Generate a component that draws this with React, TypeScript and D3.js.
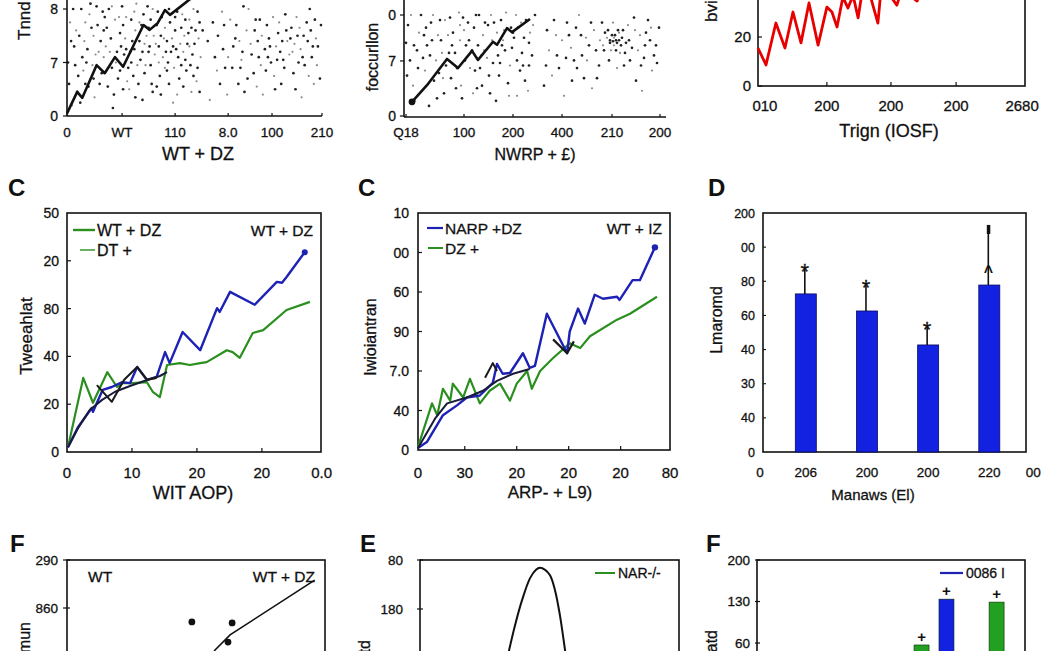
import React from "react";
import * as d3 from "d3";

type P = [number, number];
const FONT = "'Liberation Sans', Arial, Helvetica, sans-serif";

// ---------------- Panel A1 ----------------
const a1XTickVals = [0, 54, 106, 158, 201, 250];
const a1XTickLabels = ["0", "WT", "110", "8.0", "100", "210"];
const a1YTickVals = [0, 100, 200];
const a1YTickLabels = ["0", "7", "8"];
const a1Dots: P[] = [
  [5,20],[12,150],[18,60],[22,190],[8,95],[15,110],[27,35],[30,170],[34,80],[38,130],[41,200],[45,15],[48,100],[52,155],[55,50],[58,185],[62,120],[65,75],[68,210],[71,140],[74,30],[77,95],[80,165],[83,60],[86,115],[89,195],[92,40],[95,145],[98,85],[101,175],[104,25],[107,125],[110,70],[113,190],[116,105],[119,155],[122,45],[125,135],[128,90],[3,175],[10,45],[20,125],[25,95],[33,140],[40,55],[47,180],[53,130],[60,90],[67,160],[72,105],[79,205],[85,150],[91,75],[97,120],[103,145],[108,195],[114,55],[120,180],[126,160],[7,130],[16,85],[24,165],[29,205],[36,110],[43,145],[50,70],[57,145],[63,180],[70,60],[76,135],[82,95],[88,170],[94,110],[100,60],[106,160],[111,135],[117,85],[123,115],[129,145],[14,200],[19,100],[31,120],[37,185],[44,90],[51,185],[56,115],[64,140],[69,95],[75,190],[81,130],[87,135],[93,185],[99,100],[105,90],[112,165],[118,135],[124,200],[130,175],[2,60],[26,150],[39,165],[49,120],[61,50],[73,170],[84,45],[96,165],[109,110],[121,95],[127,65],[55,170],[66,125],[78,150],[90,130],[102,120],[115,150],
  [1,100],[6,200],[9,160],[11,75],[13,25],[17,140],[21,55],[23,210],[28,115],[32,60],[35,195],[42,120],[46,40],[54,205],[59,65],[63,100],[67,35],[71,175],[76,80],[80,120],[84,200],[88,55],[92,150],[96,90],[100,200],[104,130],[108,40],[112,95],[116,180],[120,130],[124,75],[128,195],[131,110],[133,160],[4,140],[18,175],[26,70],[36,160],[44,205],[52,85],[58,125],[66,195],[74,120],[82,180],[90,100],[98,140],[106,185],[114,120],[122,165],[130,45],
  [140,30],[148,150],[155,90],[160,180],[168,60],[172,120],[178,200],[183,80],[187,140],[192,40],[196,170],[200,100],[205,130],[210,60],[214,190],[218,115],[222,80],[226,150],[230,35],[235,175],[240,110],[244,145],[248,70],[145,110],[152,195],[163,130],[170,90],[176,160],[181,115],[185,180],[190,95],[194,125],[198,145],[203,75],[207,155],[212,105],[216,140],[220,165],[224,50],[229,125],[233,95],[238,200],[242,60],[246,130],[150,60],[158,110],[166,170],[174,45],[180,135],[188,110],[195,85],[202,185],[209,120],[215,160],[221,120],[227,100],[232,150],[237,75],[243,180],[143,175],[157,40],[165,145],[173,205],[186,55],[199,130],[211,140],[223,135],[236,140],
  [138,140],[147,85],[154,170],[162,90],[169,140],[177,70],[184,160],[191,150],[197,110],[204,50],[208,175],[213,90],[219,145],[225,185],[231,110],[239,160],[245,95],[249,170],[153,125],[171,105],[189,180],[206,105],[228,165],[241,130]
];
const a1Path: P[] = [[0,5],[10,45],[15,34],[29,95],[37,80],[47,110],[55,92],[75,170],[81,161],[89,174],[96,198],[101,189],[123,222],[130,235]];

// ---------------- Panel A2 ----------------
const a2XTickVals = [2, 60, 109, 158, 208, 256];
const a2XTickLabels = ["Q18", "100", "200", "400", "210", "200"];
const a2YTickVals = [0, 109, 200];
const a2YTickLabels = ["0", "7", "0"];
const a2Dots: P[] = [
  [4,180],[9,60],[13,130],[17,200],[21,90],[25,20],[28,150],[32,110],[36,190],[40,45],[44,160],[47,75],[51,125],[55,205],[58,35],[62,140],[66,95],[70,175],[73,55],[77,120],[81,185],[85,80],[88,150],[92,30],[96,105],[100,170],[104,65],[108,135],[112,200],[116,90],[120,155],[124,50],[128,120],[6,110],[15,165],[23,140],[30,70],[38,125],[46,195],[53,95],[60,170],[68,130],[75,200],[83,115],[90,185],[98,140],[106,100],[114,175],[122,190],[11,30],[19,115],[27,185],[34,160],[42,100],[49,165],[57,60],[64,185],[71,90],[79,160],[86,45],[94,120],[102,205],[110,155],[118,125],[126,165],[2,145],[35,85],[56,150],[74,140],[95,80],[113,40],[125,100],[45,125],[87,200],[107,175],
  [3,80],[7,200],[10,140],[14,95],[18,50],[22,175],[26,120],[29,200],[33,35],[37,150],[41,190],[48,140],[52,55],[56,180],[61,110],[65,150],[69,45],[72,200],[76,95],[80,130],[84,180],[89,105],[93,165],[97,190],[101,130],[105,40],[109,165],[113,110],[117,185],[121,70],[125,145],[129,180],[131,200],[20,160],[39,75],[59,195],[78,60],[99,150],[119,100],
  [140,60],[145,130],[150,190],[155,95],[160,40],[165,160],[170,110],[175,200],[180,75],[185,140],[190,170],[195,100],[200,130],[203,155],[206,145],[208,160],[210,140],[212,150],[214,170],[216,125],[218,155],[220,100],[224,180],[228,135],[232,70],[236,160],[240,115],[244,190],[248,90],[252,140],[255,175],[158,150],[168,70],[178,120],[188,55],[198,185],[205,110],[213,95],[222,145],[230,195],[238,50],[246,150],[142,100],[152,160],[162,115],[172,175],[182,155],[192,130],[201,165],[209,185],[217,140],[226,110],[234,130],[242,165],[250,120],[196,150],[211,160],[219,170],[207,130],[215,150],
  [143,170],[148,80],[153,120],[163,185],[167,135],[173,95],[177,160],[183,110],[187,185],[193,75],[199,140],[204,170],[212,130],[215,165],[221,125],[225,150],[231,170],[237,100],[241,140],[247,175],[253,105],[206,150],[210,155],[213,145],[209,148]
];
const a2Path: P[] = [[8,28],[23,61],[43,113],[54,95],[68,129],[74,111],[89,147],[93,141],[103,174],[108,166],[126,192]];

// ---------------- Panel A3 ----------------
const a3XTickVals = [2.6, 25.8, 49.8, 74.2, 98.9];
const a3XTickLabels = ["010", "200", "200", "200", "2680"];
const a3YTickVals = [0, 20];
const a3YTickLabels = ["0", "20"];
const a3Red: P[] = [[0,15.5],[3,8.6],[6.7,25.7],[10.1,15.5],[13.1,30.2],[16.1,17.6],[19.1,33.9],[22.5,16.7],[25.8,32.2],[27.7,30.2],[29.6,24.1],[31.8,36.3],[33.7,31.8],[35.6,37],[37.5,27.8],[39,38.4],[42,37],[44.9,25.7],[46,38.4],[49.4,37],[52,33],[53.6,38.4],[57,36.7],[59.6,34.7],[60.7,37.6]];

// ---------------- Panel C (left) ----------------
const c1XTickVals = [0, 10, 20, 30, 39.2];
const c1XTickLabels = ["0", "10", "20", "20", "0.0"];
const c1YTickVals = [0, 10, 20, 30, 40, 50];
const c1YTickLabels = ["0", "20", "40", "80", "20", "50"];
const c1Blue: P[] = [[0.15,1],[1.7,5.2],[3.8,9.2],[4,8.4],[5.5,13],[6.9,13.6],[8.5,14.6],[9.7,14.4],[10.8,17.8],[12.3,15.1],[13.8,15.7],[15.1,20.9],[15.8,18.6],[17.8,25.1],[20.5,21.3],[23.1,30.1],[23.5,29.3],[25.1,33.5],[28.9,30.8],[32.3,35.6],[33.1,35.4],[33.8,36.6],[36.6,41.8]];
const c1Green: P[] = [[0.15,1],[2.5,15.5],[4,10.3],[6.2,16.7],[7.7,13.6],[8.6,14.4],[10.2,14.4],[12.3,14.6],[13.2,12.6],[14.3,11.5],[15.4,18.2],[17.4,18.6],[18.9,18.2],[20.5,18.6],[21.5,18.8],[24.6,21.3],[25.5,20.9],[26.6,19.7],[28.6,24.9],[30.2,25.5],[33.8,29.7],[37.4,31.4]];
const c1Black: P[] = [[0.15,1],[1.7,5],[3.5,8.8],[5.4,10.9],[7.4,12.6],[9.7,13.8],[12,14.9],[14.3,15.9],[15.4,16.7]];
const c1BlackZig: P[] = [[4.6,14],[6.9,10.5],[8.8,15.1],[10.8,17.8],[12.3,15.1],[13.8,15.5]];

// ---------------- Panel C (middle) ----------------
const c2XTickVals = [0, 9, 19, 29, 39, 48.5];
const c2XTickLabels = ["0", "30", "20", "20", "20", "80"];
const c2YTickVals = [0, 10, 20, 30, 40, 50, 60];
const c2YTickLabels = ["0", "40", "7.0", "90", "60", "00", "10"];
const c2Blue: P[] = [[0,0.5],[1.7,2],[4.8,8.8],[7.5,11.3],[9.4,13.3],[11.9,13.8],[14.4,17],[15.2,21.8],[16.3,19.3],[17.7,19.5],[20.2,24.5],[21.5,20.8],[22.5,21.3],[24.8,34.5],[28.7,24.5],[29.2,30],[30.8,35.8],[32.1,32],[34,39.3],[35.6,38.3],[38.3,38.8],[38.8,38],[41.3,43],[42.7,43],[45.6,51.3]];
const c2Green: P[] = [[0,0.8],[2.7,11.8],[3.7,8.8],[4.8,15.5],[6.2,12.5],[6.7,16.8],[8.7,13.3],[10,18],[11.9,11.8],[13.8,15],[15.8,16.8],[17.7,12.5],[19,16.8],[21,20],[21.9,15.5],[23.5,20],[26,23.3],[29.2,27],[31.2,25.8],[33.1,28.8],[38.3,33],[40.8,34.5],[46,38.8]];
const c2Black: P[] = [[0,0.5],[3.3,8],[5.6,11.8],[9.4,13.3],[12.5,15],[15.2,17.5],[18.3,19.3],[21.5,20.5]];
const c2BlackZig1: P[] = [[12.9,18.3],[14.4,22],[15.2,20]];
const c2BlackZig2: P[] = [[26,28],[28.7,24.5],[30,27.5]];

// ---------------- Panel D ----------------
const dCategories = [0, 1, 2, 3];
const dValues = [92.6, 82.6, 62.7, 97.8];
const dErrTop = [108.4, 99, 74.4, 133];
const dMarks = ["*", "*", "*", "^"];
const dXTickVals = [-0.75, 0, 1, 2, 3, 3.72];
const dXTickLabels = ["0", "206", "200", "200", "220", "00"];
const dYTickVals = [0, 20, 40, 60, 80, 100, 120, 140];
const dYTickLabels = ["0", "40", "30", "40", "60", "80", "00", "200"];

// ---------------- Panel F (left) ----------------
const f1YTickVals = [0, 1, 2];
const f1YTickLabels = ["00", "860", "290"];
const f1Dots: P[] = [[48.4,0.71],[64,0.69],[62.4,0.29]];
const f1Fit: P[] = [[96,1.58],[63.2,0.44],[57.4,0.125],[53.5,-0.19],[50,-0.5]];

// ---------------- Panel E ----------------
const eYTickVals = [1, 2];
const eYTickLabels = ["180", "80"];
const eCurve: P[] = [[32.8,-0.24],[34.4,0.16],[36.7,0.67],[39.4,1.18],[42.5,1.63],[44.8,1.8],[46.3,1.84],[48.3,1.8],[50.2,1.69],[52.1,1.39],[54,0.88],[56,0.16],[57.1,-0.24]];

// ---------------- Panel F (right) ----------------
const f2YTickVals = [60, 130, 200];
const f2YTickLabels = ["60", "130", "200"];
const f2BarX = [61.4, 70.7, 89.4];
const f2BarV = [56.7, 134, 129];
const f2BarGroup = ["WT", "0086 I", "WT"];

const BLUE = "#1d22b4";
const BLUE_BAR = "#1222e0";
const GREEN = "#2a8f1e";
const GREEN_BAR = "#22a022";
const RED = "#e80000";
const INK = "#111";

function line(sx: any, sy: any) {
  return d3.line<P>().x((d) => sx(d[0])).y((d) => sy(d[1]));
}

const txt = { fontFamily: FONT, fill: INK, stroke: INK, strokeWidth: 0.3 } as any;

function XLabels({ sx, vals, labels, y, size }: any) {
  return (
    <g>
      {vals.map((v: number, i: number) => (
        <text key={i} x={sx(v)} y={y} textAnchor="middle" fontSize={size} {...txt}>{labels[i]}</text>
      ))}
    </g>
  );
}

function YLabels({ sy, vals, labels, x, size }: any) {
  return (
    <g>
      {vals.map((v: number, i: number) => (
        <text key={i} x={x} y={sy(v)} dy="0.36em" textAnchor="end" fontSize={size} {...txt}>{labels[i]}</text>
      ))}
    </g>
  );
}

function RotLabel({ x, y, text, anchor, size }: any) {
  return (
    <text transform={`translate(${x},${y}) rotate(-90)`} textAnchor={anchor} fontSize={size} {...txt}>{text}</text>
  );
}

function Letter({ x, y, t }: any) {
  return <text x={x} y={y} fontSize={24} fontWeight="bold" fontFamily={FONT} fill={INK}>{t}</text>;
}

function T({ x, y, size, anchor, children }: any) {
  return <text x={x} y={y} fontSize={size} textAnchor={anchor || "start"} {...txt}>{children}</text>;
}

export default function App() {
  const a1x = d3.scaleLinear().domain([0, 250]).range([67, 322]);
  const a1y = d3.scaleLinear().domain([0, 200]).range([116, 9]);
  const a2x = d3.scaleLinear().domain([0, 262]).range([404, 666]);
  const a2y = d3.scaleLinear().domain([0, 200]).range([116, 15]);
  const a3x = d3.scaleLinear().domain([0, 100]).range([758, 1025]);
  const a3y = d3.scaleLinear().domain([0, 40]).range([86, -12]);
  const c1x = d3.scaleLinear().domain([0, 39.1]).range([67, 321]);
  const c1y = d3.scaleLinear().domain([0, 50]).range([452, 213]);
  const c2x = d3.scaleLinear().domain([0, 48.5]).range([418, 670]);
  const c2y = d3.scaleLinear().domain([0, 60]).range([450, 213]);
  const dx = d3.scaleLinear().domain([-0.7, 3.6]).range([763, 1026]);
  const dy = d3.scaleLinear().domain([0, 140]).range([452, 213]);
  const f1x = d3.scaleLinear().domain([0, 100]).range([67, 325]);
  const f1y = d3.scaleLinear().domain([0, 2]).range([656, 560]);
  const ex = d3.scaleLinear().domain([0, 100]).range([420, 679]);
  const ey = d3.scaleLinear().domain([0, 2]).range([658, 560]);
  const f2x = d3.scaleLinear().domain([0, 100]).range([757, 1025]);
  const f2y = d3.scaleLinear().domain([0, 200]).range([678.6, 560]);

  const dBarW = 21;
  const f2BarW = 15;

  return (
    <svg width={1051} height={651} style={{ position: "absolute", left: 0, top: 0, background: "#fff" }}>
      <rect x={0} y={0} width={1051} height={651} fill="#fff" />

      {/* ===== A1 ===== */}
      <g>
        {a1Dots.map((d, i) => (
          <circle key={i} cx={a1x(d[0])} cy={a1y(d[1])} r={i % 3 === 0 ? 1.1 : 1.35} fill={i % 3 === 0 ? "#8a8a8a" : "#222"} />
        ))}
        <path d={line(a1x, a1y)(a1Path) || ""} fill="none" stroke={INK} strokeWidth={2.6} strokeLinejoin="round" />
        <line x1={67} y1={-5} x2={67} y2={116} stroke={INK} strokeWidth={1.6} />
        <line x1={67} y1={116} x2={322} y2={116} stroke={INK} strokeWidth={1.6} />
        {a1YTickVals.map((v, i) => <line key={i} x1={63} x2={67} y1={a1y(v)} y2={a1y(v)} stroke={INK} strokeWidth={1.2} />)}
        {a1XTickVals.map((v, i) => <line key={i} x1={a1x(v)} x2={a1x(v)} y1={116} y2={113} stroke={INK} strokeWidth={1.2} />)}
        <YLabels sy={a1y} vals={a1YTickVals} labels={a1YTickLabels} x={58} size={14} />
        <XLabels sx={a1x} vals={a1XTickVals} labels={a1XTickLabels} y={137} size={13.5} />
        <T x={198} y={160} size={18} anchor="middle">WT + DZ</T>
        <RotLabel x={30} y={40} text="Tnnd" anchor="start" size={17} />
      </g>

      {/* ===== A2 ===== */}
      <g>
        {a2Dots.map((d, i) => (
          <circle key={i} cx={a2x(d[0])} cy={a2y(d[1])} r={i % 3 === 1 ? 1.1 : 1.35} fill={i % 3 === 1 ? "#8a8a8a" : "#222"} />
        ))}
        <path d={line(a2x, a2y)(a2Path) || ""} fill="none" stroke={INK} strokeWidth={2.6} strokeLinejoin="round" />
        <circle cx={a2x(a2Path[0][0])} cy={a2y(a2Path[0][1])} r={3.4} fill={INK} />
        <line x1={404} y1={-5} x2={404} y2={117} stroke={INK} strokeWidth={1.6} />
        <line x1={404} y1={117} x2={666} y2={117} stroke={INK} strokeWidth={1.6} />
        {a2YTickVals.map((v, i) => <line key={i} x1={400} x2={404} y1={a2y(v)} y2={a2y(v)} stroke={INK} strokeWidth={1.2} />)}
        {a2XTickVals.map((v, i) => <line key={i} x1={a2x(v)} x2={a2x(v)} y1={117} y2={114} stroke={INK} strokeWidth={1.2} />)}
        <YLabels sy={a2y} vals={a2YTickVals} labels={a2YTickLabels} x={396} size={14} />
        <XLabels sx={a2x} vals={a2XTickVals} labels={a2XTickLabels} y={137} size={13.5} />
        <T x={535} y={160} size={16} anchor="middle">NWRP + £)</T>
        <RotLabel x={378} y={57} text="foccurllon" anchor="middle" size={16} />
      </g>

      {/* ===== A3 ===== */}
      <g>
        <rect x={758} y={-10} width={267} height={96} fill="none" stroke={INK} strokeWidth={1.6} />
        <path d={line(a3x, a3y)(a3Red) || ""} fill="none" stroke={RED} strokeWidth={2.8} strokeLinejoin="round" />
        {a3XTickVals.slice(1, 4).map((v, i) => <line key={i} x1={a3x(v)} x2={a3x(v)} y1={86} y2={82} stroke={INK} strokeWidth={1.2} />)}
        {a3YTickVals.map((v, i) => <line key={i} x1={758} x2={762} y1={a3y(v)} y2={a3y(v)} stroke={INK} strokeWidth={1.2} />)}
        <YLabels sy={a3y} vals={a3YTickVals} labels={a3YTickLabels} x={751} size={15} />
        <XLabels sx={a3x} vals={a3XTickVals} labels={a3XTickLabels} y={111} size={15} />
        <T x={889} y={137} size={18} anchor="middle">Trign  (IOSF)</T>
        <RotLabel x={717} y={22} text="bvi" anchor="start" size={17} />
      </g>

      {/* ===== C (left) ===== */}
      <g>
        <Letter x={8} y={196} t="C" />
        <rect x={67} y={213} width={254} height={239} fill="none" stroke={INK} strokeWidth={1.6} />
        {c1XTickVals.slice(1, 4).map((v, i) => <line key={i} x1={c1x(v)} x2={c1x(v)} y1={452} y2={448} stroke={INK} strokeWidth={1.2} />)}
        {c1YTickVals.slice(1, 5).map((v, i) => <line key={i} x1={67} x2={71} y1={c1y(v)} y2={c1y(v)} stroke={INK} strokeWidth={1.2} />)}
        <path d={line(c1x, c1y)(c1Green) || ""} fill="none" stroke={GREEN} strokeWidth={2.2} strokeLinejoin="round" />
        <path d={line(c1x, c1y)(c1Blue) || ""} fill="none" stroke={BLUE} strokeWidth={2.4} strokeLinejoin="round" />
        <path d={line(c1x, c1y)(c1Black) || ""} fill="none" stroke="#1a1a3a" strokeWidth={2} strokeLinejoin="round" />
        <path d={line(c1x, c1y)(c1BlackZig) || ""} fill="none" stroke="#1a1a1a" strokeWidth={2} strokeLinejoin="round" />
        <circle cx={c1x(c1Blue[c1Blue.length - 1][0])} cy={c1y(c1Blue[c1Blue.length - 1][1])} r={3} fill={BLUE} />
        <line x1={73} x2={95} y1={230} y2={230} stroke={GREEN} strokeWidth={2.4} />
        <T x={97} y={236} size={16}>WT + DZ</T>
        <line x1={80} x2={95} y1={250} y2={250} stroke={GREEN} strokeWidth={1.4} />
        <T x={97} y={256} size={16}>DT +</T>
        <T x={313} y={236} size={15.5} anchor="end">WT + DZ</T>
        <YLabels sy={c1y} vals={c1YTickVals} labels={c1YTickLabels} x={59} size={14} />
        <XLabels sx={c1x} vals={c1XTickVals} labels={c1XTickLabels} y={478} size={15} />
        <T x={193} y={499} size={18} anchor="middle">WIT  AOP)</T>
        <RotLabel x={32} y={336} text="Tweeahlat" anchor="middle" size={17} />
      </g>

      {/* ===== C (middle) ===== */}
      <g>
        <Letter x={358} y={196} t="C" />
        <rect x={418} y={213} width={252} height={237} fill="none" stroke={INK} strokeWidth={1.6} />
        {c2XTickVals.slice(1, 5).map((v, i) => <line key={i} x1={c2x(v)} x2={c2x(v)} y1={450} y2={446} stroke={INK} strokeWidth={1.2} />)}
        {c2YTickVals.slice(1, 6).map((v, i) => <line key={i} x1={418} x2={422} y1={c2y(v)} y2={c2y(v)} stroke={INK} strokeWidth={1.2} />)}
        <path d={line(c2x, c2y)(c2Green) || ""} fill="none" stroke={GREEN} strokeWidth={2.2} strokeLinejoin="round" />
        <path d={line(c2x, c2y)(c2Blue) || ""} fill="none" stroke={BLUE} strokeWidth={2.4} strokeLinejoin="round" />
        <path d={line(c2x, c2y)(c2Black) || ""} fill="none" stroke="#1a1a3a" strokeWidth={2} strokeLinejoin="round" />
        <path d={line(c2x, c2y)(c2BlackZig1) || ""} fill="none" stroke="#1a1a1a" strokeWidth={2} strokeLinejoin="round" />
        <path d={line(c2x, c2y)(c2BlackZig2) || ""} fill="none" stroke="#1a1a1a" strokeWidth={2.2} strokeLinejoin="round" />
        <circle cx={c2x(c2Blue[c2Blue.length - 1][0])} cy={c2y(c2Blue[c2Blue.length - 1][1])} r={3.2} fill={BLUE} />
        <line x1={427} x2={443} y1={228} y2={228} stroke={BLUE} strokeWidth={2.2} />
        <T x={445} y={234} size={15.5}>NARP +DZ</T>
        <line x1={428} x2={443} y1={248} y2={248} stroke={GREEN} strokeWidth={2} />
        <T x={445} y={254} size={15.5}>DZ +</T>
        <T x={662} y={234} size={15.5} anchor="end">WT + IZ</T>
        <YLabels sy={c2y} vals={c2YTickVals} labels={c2YTickLabels} x={409} size={14} />
        <XLabels sx={c2x} vals={c2XTickVals} labels={c2XTickLabels} y={478} size={15} />
        <T x={550} y={498} size={17} anchor="middle">ARP-  + L9)</T>
        <RotLabel x={376} y={337} text="Iwioiantran" anchor="middle" size={16} />
      </g>

      {/* ===== D ===== */}
      <g>
        <Letter x={708} y={196} t="D" />
        <rect x={763} y={213} width={263} height={239} fill="none" stroke={INK} strokeWidth={1.6} />
        {dYTickVals.slice(1, 7).map((v, i) => <line key={i} x1={763} x2={766} y1={dy(v)} y2={dy(v)} stroke={INK} strokeWidth={1.1} />)}
        {dCategories.map((c, i) => (
          <g key={i}>
            <line x1={dx(c) - 1} x2={dx(c) - 1} y1={dy(dValues[i])} y2={dy(dErrTop[i])} stroke={INK} strokeWidth={1.6} />
            <rect x={dx(c) - dBarW / 2} y={dy(dValues[i])} width={dBarW} height={dy(0) - dy(dValues[i])} fill={BLUE_BAR} stroke="#0a0a60" strokeWidth={0.8} />
            {dMarks[i] === "*" ? (
              <text x={dx(c) - 1} y={dy(dErrTop[i]) + 12} textAnchor="middle" fontSize={22} {...txt}>*</text>
            ) : (
              <g>
                <text x={dx(c) - 1} y={dy(109.5) + 12} textAnchor="middle" fontSize={16} fontWeight="bold" fontFamily={FONT} fill={INK}>^</text>
                <rect x={dx(c) - 2.5} y={dy(dErrTop[i])} width={3.5} height={9} fill={INK} />
              </g>
            )}
          </g>
        ))}
        <YLabels sy={dy} vals={dYTickVals} labels={dYTickLabels} x={755} size={12.5} />
        <XLabels sx={dx} vals={dXTickVals} labels={dXTickLabels} y={477} size={13.5} />
        <T x={873} y={500} size={15} anchor="middle">Manaws  (El)</T>
        <RotLabel x={722} y={320} text="Lmaromd" anchor="middle" size={16} />
      </g>

      {/* ===== F (left) ===== */}
      <g>
        <Letter x={10} y={552} t="F" />
        <rect x={67} y={560} width={258} height={200} fill="none" stroke={INK} strokeWidth={1.6} />
        {f1YTickVals.map((v, i) => <line key={i} x1={63} x2={70} y1={f1y(v)} y2={f1y(v)} stroke={INK} strokeWidth={1.2} />)}
        <path d={line(f1x, f1y)(f1Fit) || ""} fill="none" stroke={INK} strokeWidth={1.6} />
        {f1Dots.map((d, i) => <circle key={i} cx={f1x(d[0])} cy={f1y(d[1])} r={3.4} fill={INK} />)}
        <YLabels sy={f1y} vals={f1YTickVals} labels={f1YTickLabels} x={58} size={13.5} />
        <T x={88} y={582} size={15.5}>WT</T>
        <T x={315} y={582} size={15.5} anchor="end">WT + DZ</T>
        <RotLabel x={30} y={622} text="Lmun" anchor="end" size={16} />
      </g>

      {/* ===== E ===== */}
      <g>
        <Letter x={360} y={552} t="E" />
        <rect x={420} y={560} width={259} height={200} fill="none" stroke={INK} strokeWidth={1.6} />
        {eYTickVals.map((v, i) => <line key={i} x1={417} x2={423} y1={ey(v)} y2={ey(v)} stroke={INK} strokeWidth={1.2} />)}
        <path d={d3.line<P>().x((d) => ex(d[0])).y((d) => ey(d[1])).curve(d3.curveCatmullRom)(eCurve) || ""} fill="none" stroke={INK} strokeWidth={2} />
        <line x1={595} x2={615} y1={573} y2={573} stroke={GREEN} strokeWidth={2} />
        <T x={618} y={578} size={14}>NAR-/-</T>
        <YLabels sy={ey} vals={eYTickVals} labels={eYTickLabels} x={403} size={13.5} />
        <RotLabel x={370} y={640} text="Ratd" anchor="end" size={16} />
      </g>

      {/* ===== F (right) ===== */}
      <g>
        <Letter x={706} y={552} t="F" />
        <rect x={757} y={560} width={268} height={200} fill="none" stroke={INK} strokeWidth={1.6} />
        {f2YTickVals.map((v, i) => <line key={i} x1={755} x2={760} y1={f2y(v)} y2={f2y(v)} stroke={INK} strokeWidth={1.2} />)}
        {f2BarX.map((x, i) => (
          <g key={i}>
            <rect x={f2x(x) - f2BarW / 2} y={f2y(f2BarV[i])} width={f2BarW} height={700 - f2y(f2BarV[i])} fill={f2BarGroup[i] === "WT" ? GREEN_BAR : BLUE_BAR} stroke="#0a2a0a" strokeWidth={0.6} />
            <text x={f2x(x)} y={f2y(f2BarV[i]) - 3} textAnchor="middle" fontSize={15} fontWeight="bold" fontFamily={FONT} fill={INK}>+</text>
          </g>
        ))}
        <line x1={940} x2={963} y1={573} y2={573} stroke={BLUE} strokeWidth={2.2} />
        <T x={966} y={578} size={14}>0086 I</T>
        <YLabels sy={f2y} vals={f2YTickVals} labels={f2YTickLabels} x={750} size={13.5} />
        <RotLabel x={717} y={630} text="Ratd" anchor="end" size={16} />
      </g>
    </svg>
  );
}
